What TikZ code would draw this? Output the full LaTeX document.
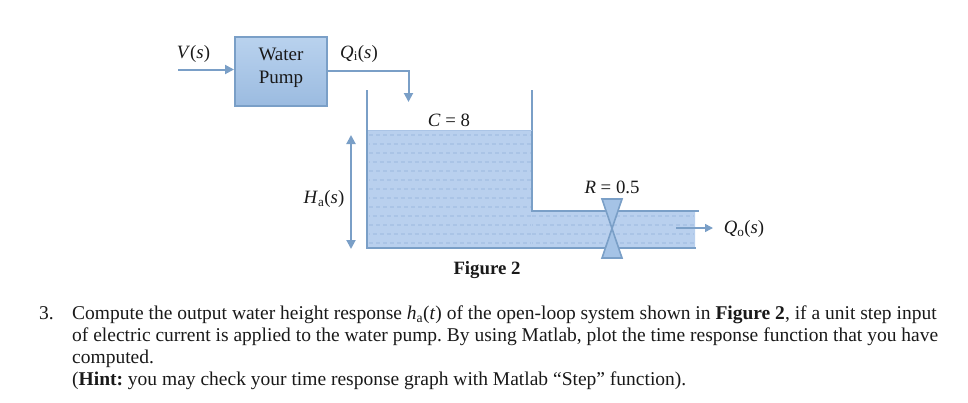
\documentclass[tikz,border=0pt]{standalone}
\usepackage{fontspec}
\setmainfont{Liberation Serif}
\usetikzlibrary{arrows.meta}
\definecolor{linec}{HTML}{7A9FC7}
\definecolor{waterc}{HTML}{B9D0EE}
\definecolor{waterd}{HTML}{AAC4E6}
\definecolor{pumpt}{HTML}{B9D2EE}
\definecolor{pumpb}{HTML}{9BBBE0}
\definecolor{valvec}{HTML}{A5C3E6}
\tikzset{
  flow/.style={draw=linec,line width=2pt,-{Triangle[length=9pt,width=9pt]}},
  dbl/.style={draw=linec,line width=2pt,{Triangle[length=9pt,width=9pt]}-{Triangle[length=9pt,width=9pt]}},
  wall/.style={draw=linec,line width=2pt},
  water/.style={fill=waterc},
  lab/.style={inner sep=0pt,font=\fontsize{18.8}{23}\selectfont,text=black!90},
  para/.style={inner sep=0pt,anchor=base west,font=\fontsize{19.5}{22}\selectfont,text=black!90},
}
\begin{document}
\frenchspacing
\begin{tikzpicture}[x=1pt,y=-1pt]
\useasboundingbox (0,0) rectangle (968,402);
% water
\fill[water] (368,131) -- (532,131) -- (532,211) -- (695,211) -- (695,247) -- (368,247) -- cycle;
\foreach \r in {0,...,12}{
  \pgfmathsetmacro{\ph}{mod(\r,2)*3.5}
  \draw[waterd,line width=1.5pt,dash pattern=on 4pt off 3pt,dash phase=\ph pt] (369,{135+\r*9}) -- (531,{135+\r*9});
}
\foreach \r in {0,...,3}{
  \pgfmathsetmacro{\ph}{mod(\r,2)*3.5}
  \draw[waterd,line width=1.5pt,dash pattern=on 4pt off 3pt,dash phase=\ph pt] (532,{216+\r*9}) -- (694,{216+\r*9});
}
% walls
\draw[wall] (367,90) -- (367,248) -- (696,248);
\draw[wall] (532,90) -- (532,211) -- (699,211);
\draw[draw=waterd,line width=1.5pt] (368,130.5) -- (532,130.5);
% valve
\path[draw=linec,line width=1.6pt,fill=valvec] (602,199) -- (622,199) -- (602,258) -- (622,258) -- cycle;
% pump
\node[draw=linec,line width=2pt,top color=pumpt,bottom color=pumpb,minimum width=92pt,minimum height=69pt,inner sep=0pt] (pump) at (281,71.5) {};
\node[lab,align=center,font=\fontsize{19}{23}\selectfont] (pumptxt) at (281,67.5) {Water\\Pump};
% coordinates
\coordinate (vs) at (178,69.5);
\coordinate (qa) at (408.5,71);
\coordinate (qb) at (408.5,102);
\coordinate (ha) at (351,135);
\coordinate (hb) at (351,249);
\coordinate (oa) at (676,228);
\coordinate (ob) at (713,228);
\draw[flow] (vs) -- (pump.west |- vs);
\draw[flow] (pump.east |- qa) -- (qa) -- (qb);
\draw[dbl] (ha) -- (hb);
\draw[draw=linec,line width=1.5pt,-{Triangle[length=8pt,width=8pt]}] (oa) -- (ob);
% labels
\node[lab] (v) at (193.5,53.5) {\textit{V}(\textit{s})};
\node[lab] (qi) at (359,53.5) {\textit{Q}\textsubscript{i}(\textit{s})};
\node[lab] (c) at (449,120) {\textit{C} = 8};
\node[lab] (h) at (324,199) {\textit{H}\textsubscript{a}(\textit{s})};
\node[lab] (r) at (612,187) {\textit{R} = 0.5};
\node[lab] (qo) at (744,229) {\textit{Q}\textsubscript{o}(\textit{s})};
\node[lab] (fig) at (487,270) {\textbf{Figure 2}};
% paragraph
\node[para] (n3) at (39,319) {3.};
\node[para] (l1) at (72,319) {Compute the output water height response \textit{h}\textsubscript{a}(\textit{t}) of the open-loop system shown in \textbf{Figure 2}, if a unit step input};
\node[para] (l2) at (72,341) {of electric current is applied to the water pump. By using Matlab, plot the time response function that you have};
\node[para] (l3) at (72,363) {computed.};
\node[para] (l4) at (72,385) {(\textbf{Hint:} you may check your time response graph with Matlab “Step” function).};
\end{tikzpicture}
\end{document}
